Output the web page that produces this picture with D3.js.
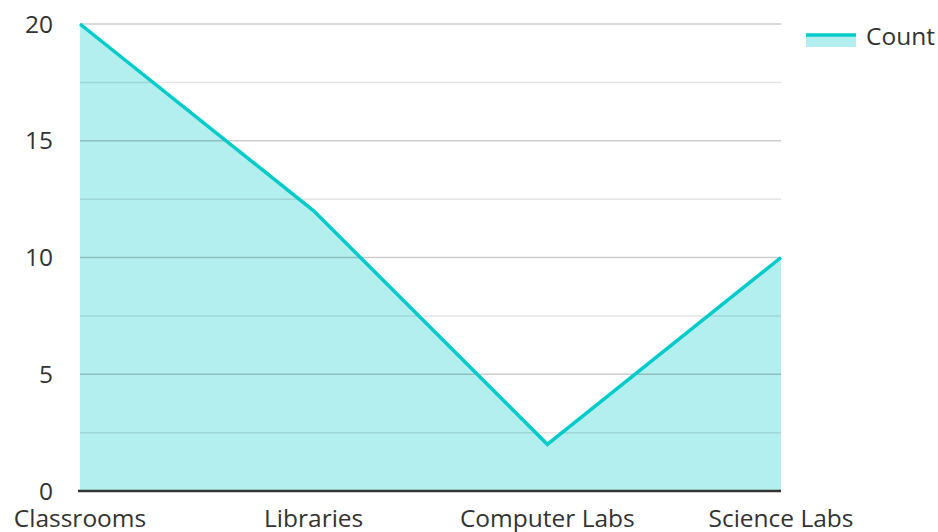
<!DOCTYPE html>
<html>
<head>
<meta charset="utf-8">
<script src="https://cdn.jsdelivr.net/npm/d3@7"></script>
<style>
  body { margin: 0; background: #fff; }
  svg text { font-family: "Open Sans", "Noto Sans", sans-serif; fill: #333; }
</style>
</head>
<body>
<svg id="chart" width="938" height="532"></svg>
<script>
const categories = ["Classrooms", "Libraries", "Computer Labs", "Science Labs"];
const counts = [20, 12, 2, 10];
const yTicks = [0, 5, 10, 15, 20];
const minorTicks = [2.5, 7.5, 12.5, 17.5];

const svg = d3.select("#chart");
const plotLeft = 80, plotRight = 781, plotTop = 24, plotBottom = 491;

const x = d3.scalePoint().domain(categories).range([plotLeft, plotRight]);
const y = d3.scaleLinear().domain([0, 20]).range([plotBottom, plotTop]);

const area = d3.area()
  .x((d, i) => x(categories[i]))
  .y0(y(0))
  .y1(d => y(d));
const line = d3.line()
  .x((d, i) => x(categories[i]))
  .y(d => y(d));

svg.append("path")
  .datum(counts)
  .attr("d", area)
  .attr("fill", "#b2efee");

// grid on top of the fill, semi transparent
svg.append("g").selectAll("line")
  .data(minorTicks)
  .join("line")
  .attr("x1", plotLeft).attr("x2", plotRight)
  .attr("y1", d => y(d)).attr("y2", d => y(d))
  .attr("stroke", "rgba(0,0,0,0.1)")
  .attr("stroke-width", 1.5);
svg.append("g").selectAll("line")
  .data(yTicks.filter(d => d > 0))
  .join("line")
  .attr("x1", plotLeft).attr("x2", plotRight)
  .attr("y1", d => y(d)).attr("y2", d => y(d))
  .attr("stroke", "rgba(0,0,0,0.2)")
  .attr("stroke-width", 1.5);

svg.append("path")
  .datum(counts)
  .attr("d", line)
  .attr("fill", "none")
  .attr("stroke", "#00cbcb")
  .attr("stroke-width", 3.5);

svg.append("line")
  .attr("x1", plotLeft - 2).attr("x2", plotRight)
  .attr("y1", plotBottom).attr("y2", plotBottom)
  .attr("stroke", "#333")
  .attr("stroke-width", 2.5);

// y labels
svg.append("g").selectAll("text")
  .data(yTicks)
  .join("text")
  .attr("x", 53)
  .attr("y", d => y(d))
  .attr("dy", "0.35em")
  .attr("text-anchor", "end")
  .attr("font-size", 24.5)
  .text(d => d);

// x labels
svg.append("g").selectAll("text")
  .data(categories)
  .join("text")
  .attr("x", d => x(d))
  .attr("y", 527)
  .attr("text-anchor", "middle")
  .attr("font-size", 24.5)
  .text(d => d);

// legend
svg.append("rect")
  .attr("x", 806).attr("y", 35).attr("width", 50).attr("height", 12)
  .attr("fill", "#b2efee");
svg.append("line")
  .attr("x1", 806).attr("x2", 856).attr("y1", 35).attr("y2", 35)
  .attr("stroke", "#00cbcb").attr("stroke-width", 3.5);
svg.append("text")
  .attr("x", 866).attr("y", 36)
  .attr("dy", "0.35em")
  .attr("font-size", 24.5)
  .text("Count");
</script>
</body>
</html>
